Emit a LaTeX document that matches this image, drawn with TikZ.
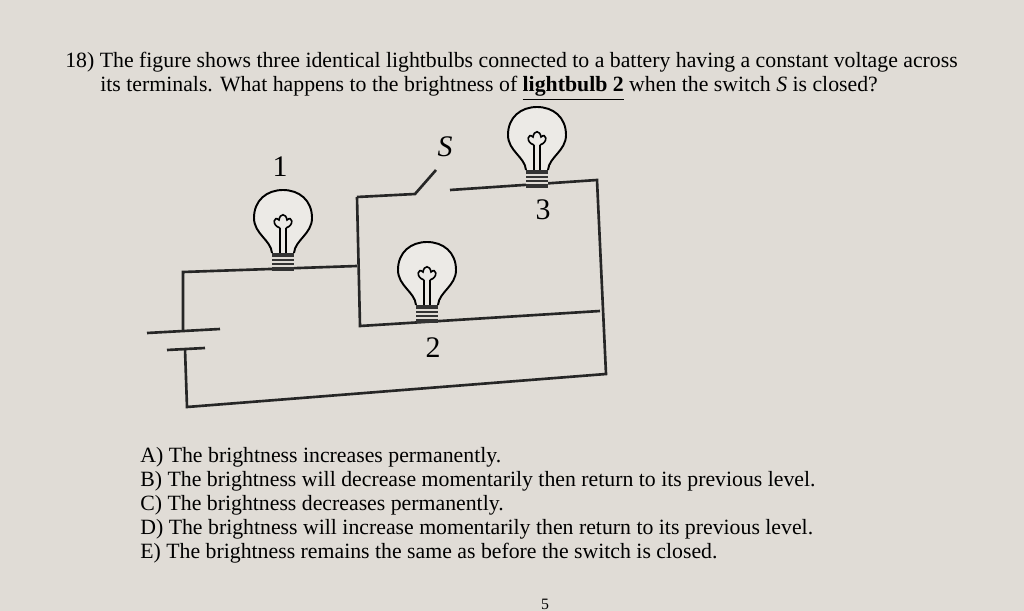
\documentclass[tikz,border=0pt]{standalone}
\usepackage{fontspec}
\setmainfont{Liberation Serif}
\definecolor{paper}{RGB}{224,220,214}
\tikzset{
  wire/.style={line width=1.5pt,draw=black!85},
  qtext/.style={anchor=base west,inner sep=0,font=\fontsize{12.4}{15}\selectfont},
  lab/.style={font=\fontsize{17}{19}\selectfont},
  bulb/.pic={
    \draw[line width=1.1pt,fill=paper!60!white] (-11,-17) .. controls (-12,-30) and (-29,-36) .. (-29,-52) .. controls (-29,-70) and (-16,-80) .. (0,-80) .. controls (16,-80) and (29,-70) .. (29,-52) .. controls (29,-36) and (12,-30) .. (11,-17);
    \draw[line width=0.9pt] (-3,-17) -- (-3,-42) (3,-17) -- (3,-42);
    \draw[line width=0.9pt] (-3,-42) .. controls (-12,-45) and (-9,-55) .. (-4,-50) .. controls (-3,-57) and (3,-57) .. (4,-50) .. controls (9,-55) and (12,-45) .. (3,-42);
    \fill[black!80] (-11,1) rectangle (11,-17);
    \foreach \yy in {-4,-8,-12} \draw[paper,line width=0.6pt] (-11,\yy) -- (11,\yy);
  }
}
\begin{document}
\begin{tikzpicture}[x=0.02cm,y=-0.02cm]
\fill[paper] (0,0) rectangle (1024,611);
\useasboundingbox (0,0) rectangle (1024,611);
% text
\node[qtext] (q1) at (65,68) {18) The figure shows three identical lightbulbs connected to a battery having a constant voltage across};
\node[qtext] (q2) at (100,92) {its terminals. What happens to the brightness of \textbf{\underline{lightbulb 2}} when the switch \textit{S} is closed?};
\node[qtext] (a) at (140,462) {A) The brightness increases permanently.};
\node[qtext] (b) at (140,486) {B) The brightness will decrease momentarily then return to its previous level.};
\node[qtext] (c) at (140,510) {C) The brightness decreases permanently.};
\node[qtext] (d) at (140,534) {D) The brightness will increase momentarily then return to its previous level.};
\node[qtext] (e) at (140,558) {E) The brightness remains the same as before the switch is closed.};
\node[font=\small] (pg) at (545,604) {5};
% circuit coordinates
\coordinate (bt) at (183,330);
\coordinate (bb) at (185,349);
\coordinate (tl) at (183,272);
\coordinate (jl) at (357,266);
\coordinate (jt) at (357,197);
\coordinate (sw1) at (415,194);
\coordinate (sw2) at (436,170);
\coordinate (sw3) at (450,190);
\coordinate (tr) at (597,180);
\coordinate (mr) at (600,311);
\coordinate (ml) at (360,326);
\coordinate (bl) at (187,407);
\coordinate (br) at (606,374);
\draw[wire] (bt) -- (tl) -- (jl);
\draw[wire] (jt) -- (ml) -- (mr);
\draw[wire] (jt) -- (sw1) -- (sw2);
\draw[wire] (sw3) -- (tr) -- (br) -- (bl) -- (bb);
\draw[wire] (147,333) -- (220,329);
\draw[wire] (167,350) -- (205,348);
% bulbs
\pic at (283,270) {bulb};
\pic at (427,322) {bulb};
\pic at (537,187) {bulb};
\node[lab] (l1) at (280,167) {1};
\node[lab] (ls) at (445,147) {\textit{S}};
\node[lab] (l3) at (543,210) {3};
\node[lab] (l2) at (433,348) {2};
\end{tikzpicture}
\end{document}
